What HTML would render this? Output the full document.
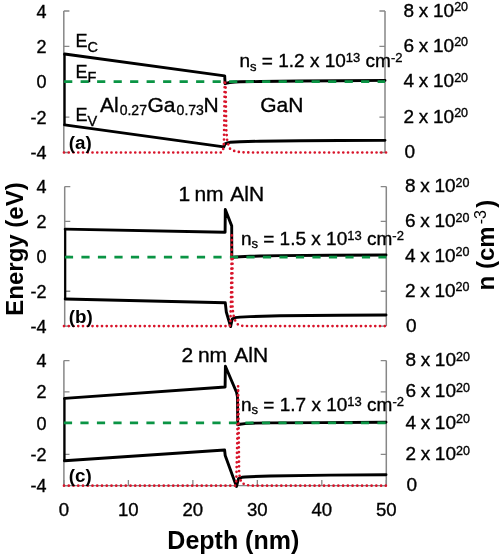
<!DOCTYPE html>
<html><head><meta charset="utf-8"><style>
html,body{margin:0;padding:0;background:#fff;}
svg{display:block;}
text{font-family:'Liberation Sans', Arial, sans-serif;fill:#000;stroke:#000;stroke-width:0.35px;}
text[font-weight=bold]{stroke:none;}
</style></head><body>
<svg width="500" height="556" viewBox="0 0 500 556">
<rect width="500" height="556" fill="#fff"/>
<path d="M63.8,11V152.5M385,11V152.5" stroke="#878787" stroke-width="1.5" fill="none"/>
<path d="M63.8,11h5.6M385,11h-5.6M63.8,46.38h5.6M385,46.38h-5.6M63.8,81.75h5.6M385,81.75h-5.6M63.8,117.12h5.6M385,117.12h-5.6M63.8,152.5h5.6M385,152.5h-5.6" stroke="#878787" stroke-width="1.3" fill="none"/>
<path d="M64.7,186.6V326.1M386.3,186.6V326.1" stroke="#878787" stroke-width="1.5" fill="none"/>
<path d="M64.7,186.6h5.6M386.3,186.6h-5.6M64.7,221.47h5.6M386.3,221.47h-5.6M64.7,256.35h5.6M386.3,256.35h-5.6M64.7,291.23h5.6M386.3,291.23h-5.6M64.7,326.1h5.6M386.3,326.1h-5.6" stroke="#878787" stroke-width="1.3" fill="none"/>
<path d="M63.9,360.6V485.7M386.3,360.6V485.7" stroke="#878787" stroke-width="1.5" fill="none"/>
<path d="M63.9,360.6h5.6M386.3,360.6h-5.6M63.9,391.88h5.6M386.3,391.88h-5.6M63.9,423.15h5.6M386.3,423.15h-5.6M63.9,454.43h5.6M386.3,454.43h-5.6M63.9,485.7h5.6M386.3,485.7h-5.6" stroke="#878787" stroke-width="1.3" fill="none"/>
<path d="M63.9,485.7H386.3M63.9,485.7v-5.6M128.38,485.7v-5.6M192.86,485.7v-5.6M257.34,485.7v-5.6M321.82,485.7v-5.6M386.3,485.7v-5.6" stroke="#878787" stroke-width="1.3" fill="none"/>
<text x="46.6" y="17.5" text-anchor="end" font-size="18">4</text>
<text x="46.6" y="52.88" text-anchor="end" font-size="18">2</text>
<text x="46.6" y="88.25" text-anchor="end" font-size="18">0</text>
<text x="46.6" y="123.62" text-anchor="end" font-size="18">-2</text>
<text x="46.6" y="159" text-anchor="end" font-size="18">-4</text>
<text x="403.6" y="16.6" font-size="19" word-spacing="-0.6">8 x 10<tspan font-size="12.5" dy="-5.5">20</tspan></text>
<text x="403.6" y="51.98" font-size="19" word-spacing="-0.6">6 x 10<tspan font-size="12.5" dy="-5.5">20</tspan></text>
<text x="403.6" y="87.35" font-size="19" word-spacing="-0.6">4 x 10<tspan font-size="12.5" dy="-5.5">20</tspan></text>
<text x="403.6" y="122.72" font-size="19" word-spacing="-0.6">2 x 10<tspan font-size="12.5" dy="-5.5">20</tspan></text>
<text x="404.6" y="158.1" font-size="19">0</text>
<text x="46.6" y="193.1" text-anchor="end" font-size="18">4</text>
<text x="46.6" y="227.97" text-anchor="end" font-size="18">2</text>
<text x="46.6" y="262.85" text-anchor="end" font-size="18">0</text>
<text x="46.6" y="297.73" text-anchor="end" font-size="18">-2</text>
<text x="46.6" y="332.6" text-anchor="end" font-size="18">-4</text>
<text x="405" y="192.2" font-size="19" word-spacing="-0.6">8 x 10<tspan font-size="12.5" dy="-5.5">20</tspan></text>
<text x="405" y="227.07" font-size="19" word-spacing="-0.6">6 x 10<tspan font-size="12.5" dy="-5.5">20</tspan></text>
<text x="405" y="261.95" font-size="19" word-spacing="-0.6">4 x 10<tspan font-size="12.5" dy="-5.5">20</tspan></text>
<text x="405" y="296.83" font-size="19" word-spacing="-0.6">2 x 10<tspan font-size="12.5" dy="-5.5">20</tspan></text>
<text x="406" y="331.7" font-size="19">0</text>
<text x="46.6" y="367.1" text-anchor="end" font-size="18">4</text>
<text x="46.6" y="398.38" text-anchor="end" font-size="18">2</text>
<text x="46.6" y="429.65" text-anchor="end" font-size="18">0</text>
<text x="46.6" y="460.93" text-anchor="end" font-size="18">-2</text>
<text x="46.6" y="492.2" text-anchor="end" font-size="18">-4</text>
<text x="405.4" y="366.2" font-size="19" word-spacing="-0.6">8 x 10<tspan font-size="12.5" dy="-5.5">20</tspan></text>
<text x="405.4" y="397.48" font-size="19" word-spacing="-0.6">6 x 10<tspan font-size="12.5" dy="-5.5">20</tspan></text>
<text x="405.4" y="428.75" font-size="19" word-spacing="-0.6">4 x 10<tspan font-size="12.5" dy="-5.5">20</tspan></text>
<text x="405.4" y="460.03" font-size="19" word-spacing="-0.6">2 x 10<tspan font-size="12.5" dy="-5.5">20</tspan></text>
<text x="406.4" y="491.3" font-size="19">0</text>
<text x="63.9" y="515.6" text-anchor="middle" font-size="18.6">0</text>
<text x="128.38" y="515.6" text-anchor="middle" font-size="18.6">10</text>
<text x="192.86" y="515.6" text-anchor="middle" font-size="18.6">20</text>
<text x="257.34" y="515.6" text-anchor="middle" font-size="18.6">30</text>
<text x="321.82" y="515.6" text-anchor="middle" font-size="18.6">40</text>
<text x="386.3" y="515.6" text-anchor="middle" font-size="18.6">50</text>
<text x="233.3" y="549" text-anchor="middle" font-size="25" font-weight="bold">Depth (nm)</text>
<text transform="translate(23.3,249) rotate(-90)" text-anchor="middle" font-size="24" font-weight="bold">Energy (eV)</text>
<text transform="translate(494,290.4) rotate(-90)" font-size="24" font-weight="bold">n<tspan dx="0"> (cm</tspan><tspan font-size="16" font-weight="normal" dy="-8" dx="2.1">-3</tspan><tspan dy="8" dx="2.4">)</tspan></text>
<path d="M64.6,54L64.6,124.9" stroke="#000" stroke-width="2.2" fill="none"/>
<path d="M64.6,54L224.7,75.9L225.1,83.7L227,83.2L229.6,82.5L235,82L240,81.8L260,81.5L280,81.2L300,81L340,80.7L385,80.4M64.6,124.9L223.8,146.9L225.1,143.9L227,143L230,142.3L240,141.7L260,141.2L300,140.8L340,140.5L385,140.35" stroke="#000" stroke-width="2.9" fill="none" stroke-linejoin="round" stroke-linecap="round"/>
<path d="M64.1,81.6H385" stroke="#0a9444" stroke-width="2.6" stroke-dasharray="8.2 8.3" fill="none"/>
<path d="M64,152.5L221.5,152.5L223.6,148L224,140L224.7,80.3L225.6,86L226.3,130L227.2,141L229.6,148.4L234.4,151L240,152.2L250,152.5L386.5,152.5" stroke="#d8142a" stroke-width="2.7" stroke-dasharray="0 4.75" stroke-linecap="round" fill="none"/>
<path d="M65.2,229.1L65.2,299" stroke="#000" stroke-width="2.2" fill="none"/>
<path d="M65.2,229.1L225.1,232.3L225.3,209.5L231.7,225.9L231.8,257.6L235,257L240,256.7L250,256.3L260,256L280,255.6L330,255.2L386,255M65.2,299L225.3,302.8L226.3,312L230.6,326.6L232.2,319L235,317.6L240,317.1L250,316.6L280,315.8L340,315.3L386,315" stroke="#000" stroke-width="2.9" fill="none" stroke-linejoin="round" stroke-linecap="round"/>
<path d="M64.9,257.1H386.3" stroke="#0a9444" stroke-width="2.6" stroke-dasharray="8.2 8.3" fill="none"/>
<path d="M64,326.1L229.8,326.1L230.4,321L231,300L231.6,257L231.8,234.6" stroke="#d8142a" stroke-width="2.7" stroke-dasharray="0 4.75" stroke-linecap="round" fill="none"/>
<path d="M232.6,259L232.2,290L232.6,309L233.8,316.5L235.5,321.5L238,324.5L242,325.8L250,326.1L387.5,326.1" stroke="#d8142a" stroke-width="2.7" stroke-dasharray="0 4.75" stroke-linecap="round" fill="none"/>
<path d="M64.5,398.4L64.5,460.8" stroke="#000" stroke-width="2.2" fill="none"/>
<path d="M64.5,398.4L225.1,387L225.4,366.2L236.6,392.5L237.5,397L237.7,424.8L240,424.2L245,423.6L252,423.2L270,422.9L320,422.6L386,422.3M64.5,460.8L224.6,450L225.2,455.5L236.5,486.5L238.5,478.5L242,477.3L245,477L250,476.7L270,476L330,475.1L386,474.8" stroke="#000" stroke-width="2.9" fill="none" stroke-linejoin="round" stroke-linecap="round"/>
<path d="M63.9,422.9H386.3" stroke="#0a9444" stroke-width="2.6" stroke-dasharray="8.2 8.3" fill="none"/>
<path d="M64,485.7L235.3,485.7L236.3,481L237.3,440L238.1,386L238.8,440L239.1,472L240,479L242,483L246,485L252,485.7L387.5,485.7" stroke="#d8142a" stroke-width="2.7" stroke-dasharray="0 4.75" stroke-linecap="round" fill="none"/>
<text x="68.8" y="149.2" font-size="18.8" font-weight="bold">(a)</text>
<text x="68.8" y="322.8" font-size="18.8" font-weight="bold">(b)</text>
<text x="68.8" y="482.0" font-size="18.8" font-weight="bold">(c)</text>
<text x="75.6" y="47.2" font-size="18">E<tspan font-size="14.5" dy="4.3">C</tspan></text>
<text x="75.6" y="78" font-size="18">E<tspan font-size="14.5" dy="4.3">F</tspan></text>
<text x="75.6" y="121.2" font-size="18">E<tspan font-size="14.5" dy="4.3">V</tspan></text>
<text x="99.9" y="111.7" font-size="21">Al<tspan x="119.7" font-size="14" dy="3.5">0.27</tspan><tspan x="147.4" dy="-3.5">Ga</tspan><tspan x="176.6" font-size="14" dy="3.5">0.73</tspan><tspan x="203.6" dy="-3.5">N</tspan></text>
<text x="260.2" y="111.8" font-size="21">GaN</text>
<text x="239.5" y="67" font-size="19">n<tspan font-size="13" dy="3.5">s</tspan><tspan dy="-3.5"> = 1.2 x 10</tspan><tspan font-size="13" dy="-5">13</tspan><tspan dy="5"> cm</tspan><tspan font-size="13" dy="-5">-2</tspan></text>
<text x="240.9" y="244.8" font-size="19">n<tspan font-size="13" dy="3.5">s</tspan><tspan dy="-3.5"> = 1.5 x 10</tspan><tspan font-size="13" dy="-5">13</tspan><tspan dy="5"> cm</tspan><tspan font-size="13" dy="-5">-2</tspan></text>
<text x="241.0" y="410.6" font-size="19">n<tspan font-size="13" dy="3.5">s</tspan><tspan dy="-3.5"> = 1.7 x 10</tspan><tspan font-size="13" dy="-5">13</tspan><tspan dy="5"> cm</tspan><tspan font-size="13" dy="-5">-2</tspan></text>
<text x="178.4" y="200.5" font-size="21">1 <tspan dx="-1.5">nm</tspan> <tspan dx="2">AlN</tspan></text>
<text x="181.6" y="362.4" font-size="21">2 <tspan dx="-1.2">nm</tspan> <tspan dx="2.5">AlN</tspan></text>
</svg>
</body></html>
